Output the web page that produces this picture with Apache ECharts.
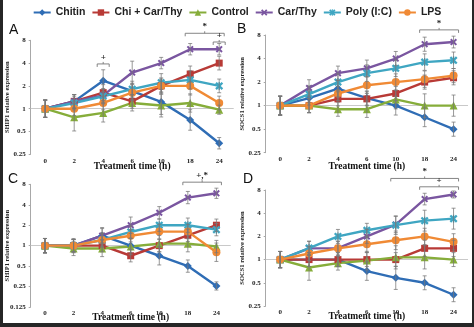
<!DOCTYPE html>
<html><head><meta charset="utf-8">
<script src="https://cdn.jsdelivr.net/npm/echarts@6/dist/echarts.min.js"></script>
<style>html,body{margin:0;padding:0;background:#fff}#c{width:474px;height:327px}</style>
</head><body><div id="c"></div>
<script>
// ---- data ----
const categories = ['0','2','4','6','10','18','24'];
const seriesNames = ['Chitin','Chi + Car/Thy','Control','Car/Thy','Poly (I:C)','LPS'];
const yTicks = [0.125,0.25,0.5,1,2,4,8];
// Panel A: SHIP1
const aChitin  = [1,1.25,2.34,1.7,1.23,0.71,0.35];
const aChi     = [1,1.25,1.63,1.25,2.0,2.87,4.0];
const aControl = [1,0.77,0.88,1.19,1.1,1.19,0.97];
const aCarThy  = [1,1.25,1.5,3.0,4.0,6.1,6.1];
const aPoly    = [1,1.19,1.46,1.81,2.2,2.4,2.0];
const aLPS     = [1,1.0,1.19,1.63,2.0,2.0,1.19];
// Panel B: SOCS1
const bChitin  = [1,1.25,1.65,1.25,1.0,0.71,0.5];
const bChi     = [1,1.0,1.22,1.22,1.43,2.0,2.27];
const bControl = [1,1.0,0.9,0.9,1.2,1.0,1.0];
const bCarThy  = [1,1.68,2.6,3.0,4.0,6.1,6.5];
const bPoly    = [1,1.4,2.0,2.6,3.0,3.6,3.8];
const bLPS     = [1,1.0,1.43,1.82,2.0,2.18,2.42];
// Panel C: SHIP1
const cChitin  = [1,1.0,1.4,1.0,0.71,0.5,0.255];
const cChi     = [1,1.0,1.0,0.71,1.0,1.42,2.0];
const cControl = [1,0.91,0.91,0.97,1.07,1.07,0.97];
const cCarThy  = [1,1.0,1.4,2.0,3.05,5.1,5.9];
const cPoly    = [1,1.0,1.21,1.59,2.0,2.0,1.72];
const cLPS     = [1,1.0,1.21,1.4,1.61,1.61,0.8];
// Panel D: SOCS1
const dChitin  = [1,1.0,1.0,0.71,0.58,0.5,0.35];
const dChi     = [1,1.0,1.0,1.0,1.0,1.4,1.4];
const dControl = [1,0.79,0.9,0.97,1.07,1.07,1.0];
const dCarThy  = [1,1.4,1.41,2.0,2.85,6.1,7.0];
const dPoly    = [1,1.41,2.0,2.4,2.8,3.2,3.4];
const dLPS     = [1,1.2,1.4,1.58,1.78,2.0,1.7];
// error half-widths (log2 units)
const aChitinErr  = [0.38,0.3,0.48,0.35,0.55,0.45,0.25];
const aChiErr     = [0.38,0.3,0.35,0.3,0.3,0.35,0.3];
const aControlErr = [0.38,0.6,0.4,0.35,0.5,0.4,0.2];
const aCarThyErr  = [0.38,0.3,0.3,0.5,0.25,0.25,0.25];
const aPolyErr    = [0.38,0.3,0.3,0.35,0.4,0.4,0.3];
const aLPSErr     = [0.38,0.3,0.3,0.35,0.35,0.4,0.3];
const bChitinErr  = [0.4,0.3,0.35,0.3,0.4,0.4,0.3];
const bChiErr     = [0.4,0.3,0.3,0.3,0.3,0.3,0.3];
const bControlErr = [0.4,0.3,0.3,0.35,0.4,0.5,0.45];
const bCarThyErr  = [0.4,0.35,0.3,0.35,0.3,0.3,0.25];
const bPolyErr    = [0.4,0.35,0.35,0.35,0.35,0.35,0.35];
const bLPSErr     = [0.4,0.3,0.3,0.35,0.35,0.35,0.3];
const cChitinErr  = [0.35,0.35,0.4,0.35,0.45,0.3,0.2];
const cChiErr     = [0.35,0.3,0.3,0.3,0.3,0.3,0.3];
const cControlErr = [0.35,0.35,0.4,0.4,0.4,0.4,0.3];
const cCarThyErr  = [0.35,0.3,0.35,0.4,0.3,0.3,0.25];
const cPolyErr    = [0.35,0.3,0.35,0.3,0.3,0.35,0.3];
const cLPSErr     = [0.35,0.3,0.3,0.3,0.35,0.35,0.45];
const dChitinErr  = [0.35,0.3,0.3,0.4,0.5,0.3,0.3];
const dChiErr     = [0.35,0.3,0.3,0.3,0.3,0.35,0.35];
const dControlErr = [0.35,0.55,0.3,0.4,0.5,0.5,0.3];
const dCarThyErr  = [0.35,0.3,0.3,0.3,0.35,0.25,0.15];
const dPolyErr    = [0.35,0.3,0.3,0.3,0.4,0.45,0.45];
const dLPSErr     = [0.35,0.3,0.3,0.35,0.4,0.35,0.35];
// significance brackets: [panel, fromCategory, toCategory, yValue, label]
const brackets = [
  [0,'18','24',9.9,'*'], [0,'24','24',7.6,'+'], [0,'4','4',3.9,'+'],
  [1,'18','24',9.3,'*'],
  [2,'18','24',8.6,'+,*'],
  [3,'10','24',11.3,'*'], [3,'18','24',8.8,'+']
];

// ---- styling / layout ----
const colors = ['#2f6db5','#b83a36','#86ad3a','#7a56a0','#3fa6c2','#f08a35'];
const xPath = 'path://M2,0 L5,3 L8,0 L10,2 L7,5 L10,8 L8,10 L5,7 L2,10 L0,8 L3,5 L0,2 Z';
const starPath = 'path://M2,0 L5,3 L8,0 L10,2 L7,5 L10,8 L8,10 L5,7 L2,10 L0,8 L3,5 L0,2 Z M4.2,0 L5.8,0 L5.8,10 L4.2,10 Z';
const symbols = ['diamond','rect','triangle',xPath,starPath,'circle'];
const symSizes = [8,7,8,7,8,8];
const panels = [
  {vals:[aChitin,aChi,aControl,aCarThy,aPoly,aLPS], errs:[aChitinErr,aChiErr,aControlErr,aCarThyErr,aPolyErr,aLPSErr], name:'SHIP1 relative expression', min:0.25, grid:{left:30.7,top:40.3,width:203,height:114}, xGap:7, letter:['A',9,23]},
  {vals:[bChitin,bChi,bControl,bCarThy,bPoly,bLPS], errs:[bChitinErr,bChiErr,bControlErr,bCarThyErr,bPolyErr,bLPSErr], name:'SOCS1 relative expression', min:0.25, grid:{left:265.7,top:35,width:202.3,height:117.7}, xGap:9, letter:['B',237,22]},
  {vals:[cChitin,cChi,cControl,cCarThy,cPoly,cLPS], errs:[cChitinErr,cChiErr,cControlErr,cCarThyErr,cPolyErr,cLPSErr], name:'SHIP1 relative expression', min:0.125, grid:{left:30.7,top:184.3,width:200,height:122.7}, xGap:5.5, letter:['C',8,172]},
  {vals:[dChitin,dChi,dControl,dCarThy,dPoly,dLPS], errs:[dChitinErr,dChiErr,dControlErr,dCarThyErr,dPolyErr,dLPSErr], name:'SOCS1 relative expression', min:0.25, grid:{left:265.7,top:190,width:202.3,height:116}, xGap:6, letter:['D',243,172]}
];
const serif = 'Liberation Serif';
const grids=[], xAxes=[], yAxes=[], series=[], graphics=[];
panels.forEach((p,pi)=>{
  grids.push(p.grid);
  xAxes.push({type:'category', gridIndex:pi, data:categories, boundaryGap:true,
    axisLine:{show:false}, axisTick:{show:false},
    axisLabel:{fontFamily:serif, fontWeight:'bold', fontSize:7, color:'#222', margin:3},
    name:'Treatment time (h)', nameLocation:'middle', nameGap:p.xGap, nameMoveOverlap:false,
    nameTextStyle:{fontFamily:serif, fontWeight:'bold', fontSize:9.5, color:'#111'}});
  yAxes.push({type:'log', logBase:2, gridIndex:pi, min:p.min, max:8, interval:1,
    axisLine:{show:true, lineStyle:{color:'#a8a8a8', width:1}},
    axisTick:{show:true, length:2, lineStyle:{color:'#a8a8a8'}},
    splitLine:{show:false},
    axisLabel:{fontFamily:serif, fontWeight:'bold', fontSize:7, color:'#222', margin:5,
      formatter:v=>{const t=yTicks.find(t=>Math.abs(t-v)<1e-6); return t!==undefined?String(t):'';}},
    name:p.name, nameLocation:'middle', nameGap:20, nameRotate:90, nameMoveOverlap:false,
    nameTextStyle:{fontFamily:serif, fontWeight:'bold', fontSize:6.5, color:'#222'}});
  const errData=[];
  p.vals.forEach((vals,si)=>{
    series.push({type:'line', name:seriesNames[si], xAxisIndex:pi, yAxisIndex:pi, data:vals,
      color:colors[si], symbol:symbols[si], symbolSize:symSizes[si], showAllSymbol:true,
      lineStyle:{width:2.4, color:colors[si]}, itemStyle:{color:colors[si]}, z:3, animation:false,
      markLine: si===0 ? {silent:true, symbol:['none','none'], label:{show:false},
        lineStyle:{color:'#c9c9c9', width:1.2, type:'solid'}, data:[{yAxis:1}], z:1} : undefined});
    vals.forEach((v,i)=>{const e=p.errs[si][i]; errData.push([i, v/Math.pow(2,e), v*Math.pow(2,e)]);});
  });
  series.push({type:'custom', xAxisIndex:pi, yAxisIndex:pi, data:errData, encode:{x:0,y:[1,2]}, z:4, animation:false, silent:true,
    renderItem:(params,api)=>{
      const lo=api.coord([api.value(0),api.value(1)]), hi=api.coord([api.value(0),api.value(2)]);
      const st={stroke:'rgba(120,120,120,0.85)', lineWidth:0.9};
      return {type:'group', children:[
        {type:'line', shape:{x1:lo[0],y1:lo[1],x2:hi[0],y2:hi[1]}, style:st},
        {type:'line', shape:{x1:lo[0]-2,y1:lo[1],x2:lo[0]+2,y2:lo[1]}, style:st},
        {type:'line', shape:{x1:hi[0]-2,y1:hi[1],x2:hi[0]+2,y2:hi[1]}, style:st}]};
    }});
  graphics.push({type:'text', left:p.letter[1], top:p.letter[2], style:{text:p.letter[0], font:'14px "Liberation Sans"', fill:'#111'}});
});
// dark frame
graphics.push({type:'rect', shape:{x:0,y:0,width:3,height:327}, style:{fill:'#262626'}});
graphics.push({type:'rect', shape:{x:472,y:0,width:2,height:327}, style:{fill:'#262626'}});
graphics.push({type:'rect', shape:{x:0,y:323,width:474,height:4}, style:{fill:'#262626'}});

const chart = echarts.init(document.getElementById('c'), null, {renderer:'canvas'});
chart.setOption({
  animation:false,
  legend:{top:2, left:'center', itemWidth:17, itemHeight:8, itemGap:6, data:seriesNames,
    textStyle:{fontFamily:'Liberation Sans', fontWeight:'bold', fontSize:10.5, color:'#222'}},
  grid:grids, xAxis:xAxes, yAxis:yAxes, series:series, graphic:graphics
});
// brackets anchored to axes
const bg=[];
brackets.forEach(([pi,f,t,yv,lab])=>{
  const x1=chart.convertToPixel({xAxisIndex:pi}, f)-(f===t?6:5);
  const x2=chart.convertToPixel({xAxisIndex:pi}, t)+(f===t?6:5);
  const y=chart.convertToPixel({yAxisIndex:pi}, yv);
  const xm=(x1+x2)/2;
  const st={stroke:'#777', lineWidth:0.9, fill:null};
  bg.push({type:'polyline', shape:{points:[[x1,y+3],[x1,y],[x2,y],[x2,y+3]]}, style:st, z:10});
  bg.push({type:'line', shape:{x1:xm,y1:y,x2:xm,y2:y-2}, style:st, z:10});
  bg.push({type:'text', x:xm, y:y-2, style:{text:lab, font:'bold 9px "Liberation Serif"', fill:'#222', align:'center', verticalAlign:'bottom'}, z:10});
});
chart.setOption({graphic:graphics.concat(bg)});
</script></body></html>
